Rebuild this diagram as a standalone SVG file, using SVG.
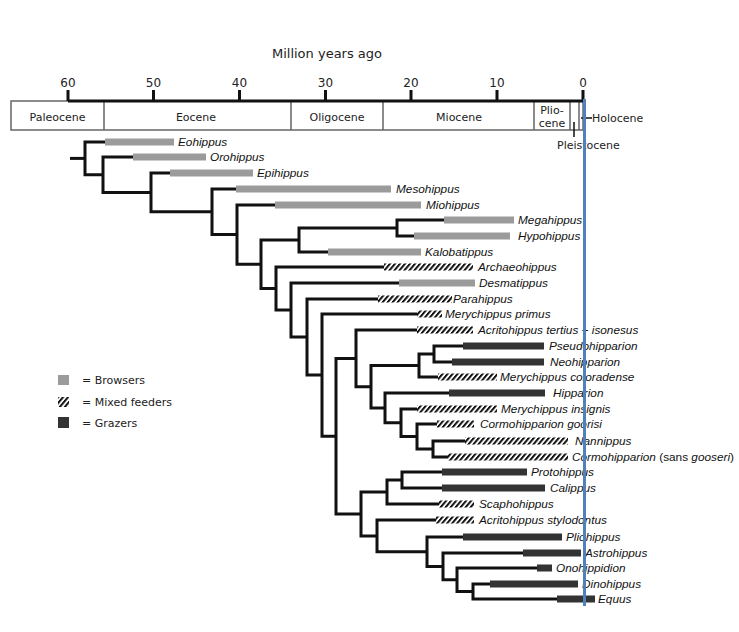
<svg xmlns="http://www.w3.org/2000/svg" width="739" height="632" viewBox="0 0 739 632">
<defs>
<pattern id="hatch" patternUnits="userSpaceOnUse" width="5" height="10" patternTransform="skewX(-40)">
<rect width="5" height="10" fill="#fff"/>
<rect width="2.6" height="10" fill="#111"/>
</pattern>
</defs>
<style>
.ax{font-family:"DejaVu Sans",Verdana,sans-serif;fill:#222}
.t{font-family:"Liberation Sans",Arial,sans-serif;font-style:italic;font-size:11.8px;fill:#111}
.up{font-style:normal}
.br{fill:#9b9b9b}
.gr{fill:#333}
.mx{fill:url(#hatch)}
.ln{fill:none;stroke:#111;stroke-width:3}
.bx{fill:#fff;stroke:#666;stroke-width:1.5}
.dv{stroke:#666;stroke-width:1.5}
</style>
<rect width="739" height="632" fill="#fff"/>

<g id="timescale">
<text class="ax" x="327" y="58" font-size="13" text-anchor="middle">Million years ago</text>
<rect class="bx" x="11" y="101" width="572" height="29"/>
<path class="dv" d="M104 101V130M291 101V130M383 101V130M534 101V130M570 101V130M579 101V130"/>
<path stroke="#111" stroke-width="3" fill="none" d="M68 101H584M68 90V101M153.5 90V101M239.5 90V101M325.5 90V101M411 90V101M497 90V101M583 90V101"/>
<g class="ax" font-size="12" text-anchor="middle">
<text x="68" y="87">60</text><text x="153.5" y="87">50</text><text x="239.5" y="87">40</text><text x="325.5" y="87">30</text><text x="411" y="87">20</text><text x="497" y="87">10</text><text x="583" y="87">0</text>
</g>
<g class="ax" font-size="11" text-anchor="middle">
<text x="57.5" y="121">Paleocene</text>
<text x="196" y="121">Eocene</text>
<text x="337" y="121">Oligocene</text>
<text x="459" y="121">Miocene</text>
<text x="552" y="114">Plio-</text>
<text x="552" y="127">cene</text>
</g>
<path stroke="#111" stroke-width="1.5" d="M581 118H592M574 122V137"/>
<text class="ax" font-size="11" x="592" y="122">Holocene</text>
<text class="ax" font-size="11" x="557" y="149">Pleistocene</text>
</g>

<g id="connectors">
<path class="ln" d="M70 158.4H85"/>
<path class="ln" d="M105 142H85V174.7H103"/>
<path class="ln" d="M133 157H103V192.4H151"/>
<path class="ln" d="M170 173H151V211.8H212"/>
<path class="ln" d="M236 189H212V234.6H237"/>
<path class="ln" d="M275 205H237V264.3H261"/>
<path class="ln" d="M299 240H261V288.5H276"/>
<path class="ln" d="M397 228H299V252H328"/>
<path class="ln" d="M444 220H397V236H414"/>
<path class="ln" d="M384 267H276V310H291"/>
<path class="ln" d="M399 283H291V337H307"/>
<path class="ln" d="M378 299H307V375.1H322"/>
<path class="ln" d="M417 314H322V436.2H336"/>
<path class="ln" d="M356 358.4H336V513.9H361"/>
<path class="ln" d="M417 330H356V386.7H371"/>
<path class="ln" d="M419 365.5H371V407.9H385"/>
<path class="ln" d="M434 354H419V377H438"/>
<path class="ln" d="M463 346H434V362H452"/>
<path class="ln" d="M449 393H385V422.8H401"/>
<path class="ln" d="M417 409H401V436.5H417"/>
<path class="ln" d="M437 424H417V449H433"/>
<path class="ln" d="M465 441H433V457H448"/>
<path class="ln" d="M387 492H361V535.9H377"/>
<path class="ln" d="M402 480H387V504H439"/>
<path class="ln" d="M442 472H402V488H442"/>
<path class="ln" d="M436 520H377V551.7H427"/>
<path class="ln" d="M463 537H427V566.4H443"/>
<path class="ln" d="M523 553H443V579.8H457"/>
<path class="ln" d="M537 568H457V591.5H473"/>
<path class="ln" d="M490 584H473V599H557"/>
</g>

<g id="eohippus"><rect class="br" x="105" y="138.5" width="69" height="7"/><text class="t" x="178" y="146">Eohippus</text></g>
<g id="orohippus"><rect class="br" x="133" y="153.5" width="73" height="7"/><text class="t" x="210" y="161">Orohippus</text></g>
<g id="epihippus"><rect class="br" x="170" y="169.5" width="83" height="7"/><text class="t" x="257" y="177">Epihippus</text></g>
<g id="mesohippus"><rect class="br" x="236" y="185.5" width="155" height="7"/><text class="t" x="396" y="193">Mesohippus</text></g>
<g id="miohippus"><rect class="br" x="275" y="201.5" width="146" height="7"/><text class="t" x="426" y="209">Miohippus</text></g>
<g id="megahippus"><rect class="br" x="444" y="216.5" width="70" height="7"/><text class="t" x="518" y="224">Megahippus</text></g>
<g id="hypohippus"><rect class="br" x="414" y="232.5" width="96" height="7"/><text class="t" x="518" y="240">Hypohippus</text></g>
<g id="kalobatippus"><rect class="br" x="328" y="248.5" width="93" height="7"/><text class="t" x="425" y="256">Kalobatippus</text></g>
<g id="archaeohippus"><rect class="mx" x="384" y="263.5" width="89" height="7"/><text class="t" x="478" y="271">Archaeohippus</text></g>
<g id="desmatippus"><rect class="br" x="399" y="279.5" width="76" height="7"/><text class="t" x="479" y="287">Desmatippus</text></g>
<g id="parahippus"><rect class="mx" x="378" y="295.5" width="74" height="7"/><text class="t" x="453" y="303">Parahippus</text></g>
<g id="merychippus-primus"><rect class="mx" x="417" y="310.5" width="25" height="7"/><text class="t" x="445" y="318">Merychippus primus</text></g>
<g id="acritohippus-tertius"><rect class="mx" x="417" y="326.5" width="56" height="7"/><text class="t" x="478" y="334">Acritohippus tertius + isonesus</text></g>
<g id="pseudohipparion"><rect class="gr" x="463" y="342.5" width="81" height="7"/><text class="t" x="549" y="350">Pseudohipparion</text></g>
<g id="neohipparion"><rect class="gr" x="452" y="358.5" width="92" height="7"/><text class="t" x="550" y="366">Neohipparion</text></g>
<g id="merychippus-coloradense"><rect class="mx" x="438" y="373.5" width="59" height="7"/><text class="t" x="500" y="381">Merychippus coloradense</text></g>
<g id="hipparion"><rect class="gr" x="449" y="389.5" width="96" height="7"/><text class="t" x="553" y="397">Hipparion</text></g>
<g id="merychippus-insignis"><rect class="mx" x="417" y="405.5" width="80" height="7"/><text class="t" x="501" y="413">Merychippus insignis</text></g>
<g id="cormohipparion-goorisi"><rect class="mx" x="437" y="420.5" width="37" height="7"/><text class="t" x="480" y="428">Cormohipparion goorisi</text></g>
<g id="nannippus"><rect class="mx" x="465" y="437.5" width="103" height="7"/><text class="t" x="575" y="445">Nannippus</text></g>
<g id="cormohipparion"><rect class="mx" x="448" y="453.5" width="120" height="7"/><text class="t" x="572" y="461">Cormohipparion <tspan class="up">(sans </tspan>gooseri<tspan class="up">)</tspan></text></g>
<g id="protohippus"><rect class="gr" x="442" y="468.5" width="85" height="7"/><text class="t" x="531" y="476">Protohippus</text></g>
<g id="calippus"><rect class="gr" x="442" y="484.5" width="103" height="7"/><text class="t" x="550" y="492">Calippus</text></g>
<g id="scaphohippus"><rect class="mx" x="439" y="500.5" width="35" height="7"/><text class="t" x="479" y="508">Scaphohippus</text></g>
<g id="acritohippus-stylodontus"><rect class="mx" x="436" y="516.5" width="38" height="7"/><text class="t" x="479" y="524">Acritohippus stylodontus</text></g>
<g id="pliohippus"><rect class="gr" x="463" y="533.5" width="99" height="7"/><text class="t" x="566" y="541">Pliohippus</text></g>
<g id="astrohippus"><rect class="gr" x="523" y="549.5" width="58" height="7"/><text class="t" x="585" y="557">Astrohippus</text></g>
<g id="onohippidion"><rect class="gr" x="537" y="564.5" width="15" height="7"/><text class="t" x="556" y="572">Onohippidion</text></g>
<g id="dinohippus"><rect class="gr" x="490" y="580.5" width="88" height="7"/><text class="t" x="582" y="588">Dinohippus</text></g>
<g id="equus"><rect class="gr" x="557" y="595.5" width="38" height="7"/><text class="t" x="598" y="603">Equus</text></g>

<line id="present-line" x1="584.5" y1="99" x2="584.5" y2="606" stroke="#4f81bd" stroke-width="3"/>

<g id="legend">
<rect class="br" x="58" y="375" width="11" height="10"/>
<text class="ax" font-size="11" x="82" y="384">= Browsers</text>
<rect class="mx" x="58" y="397" width="11" height="10"/>
<text class="ax" font-size="11" x="82" y="406">= Mixed feeders</text>
<rect class="gr" x="58" y="417" width="11" height="11"/>
<text class="ax" font-size="11" x="82" y="427">= Grazers</text>
</g>
</svg>
